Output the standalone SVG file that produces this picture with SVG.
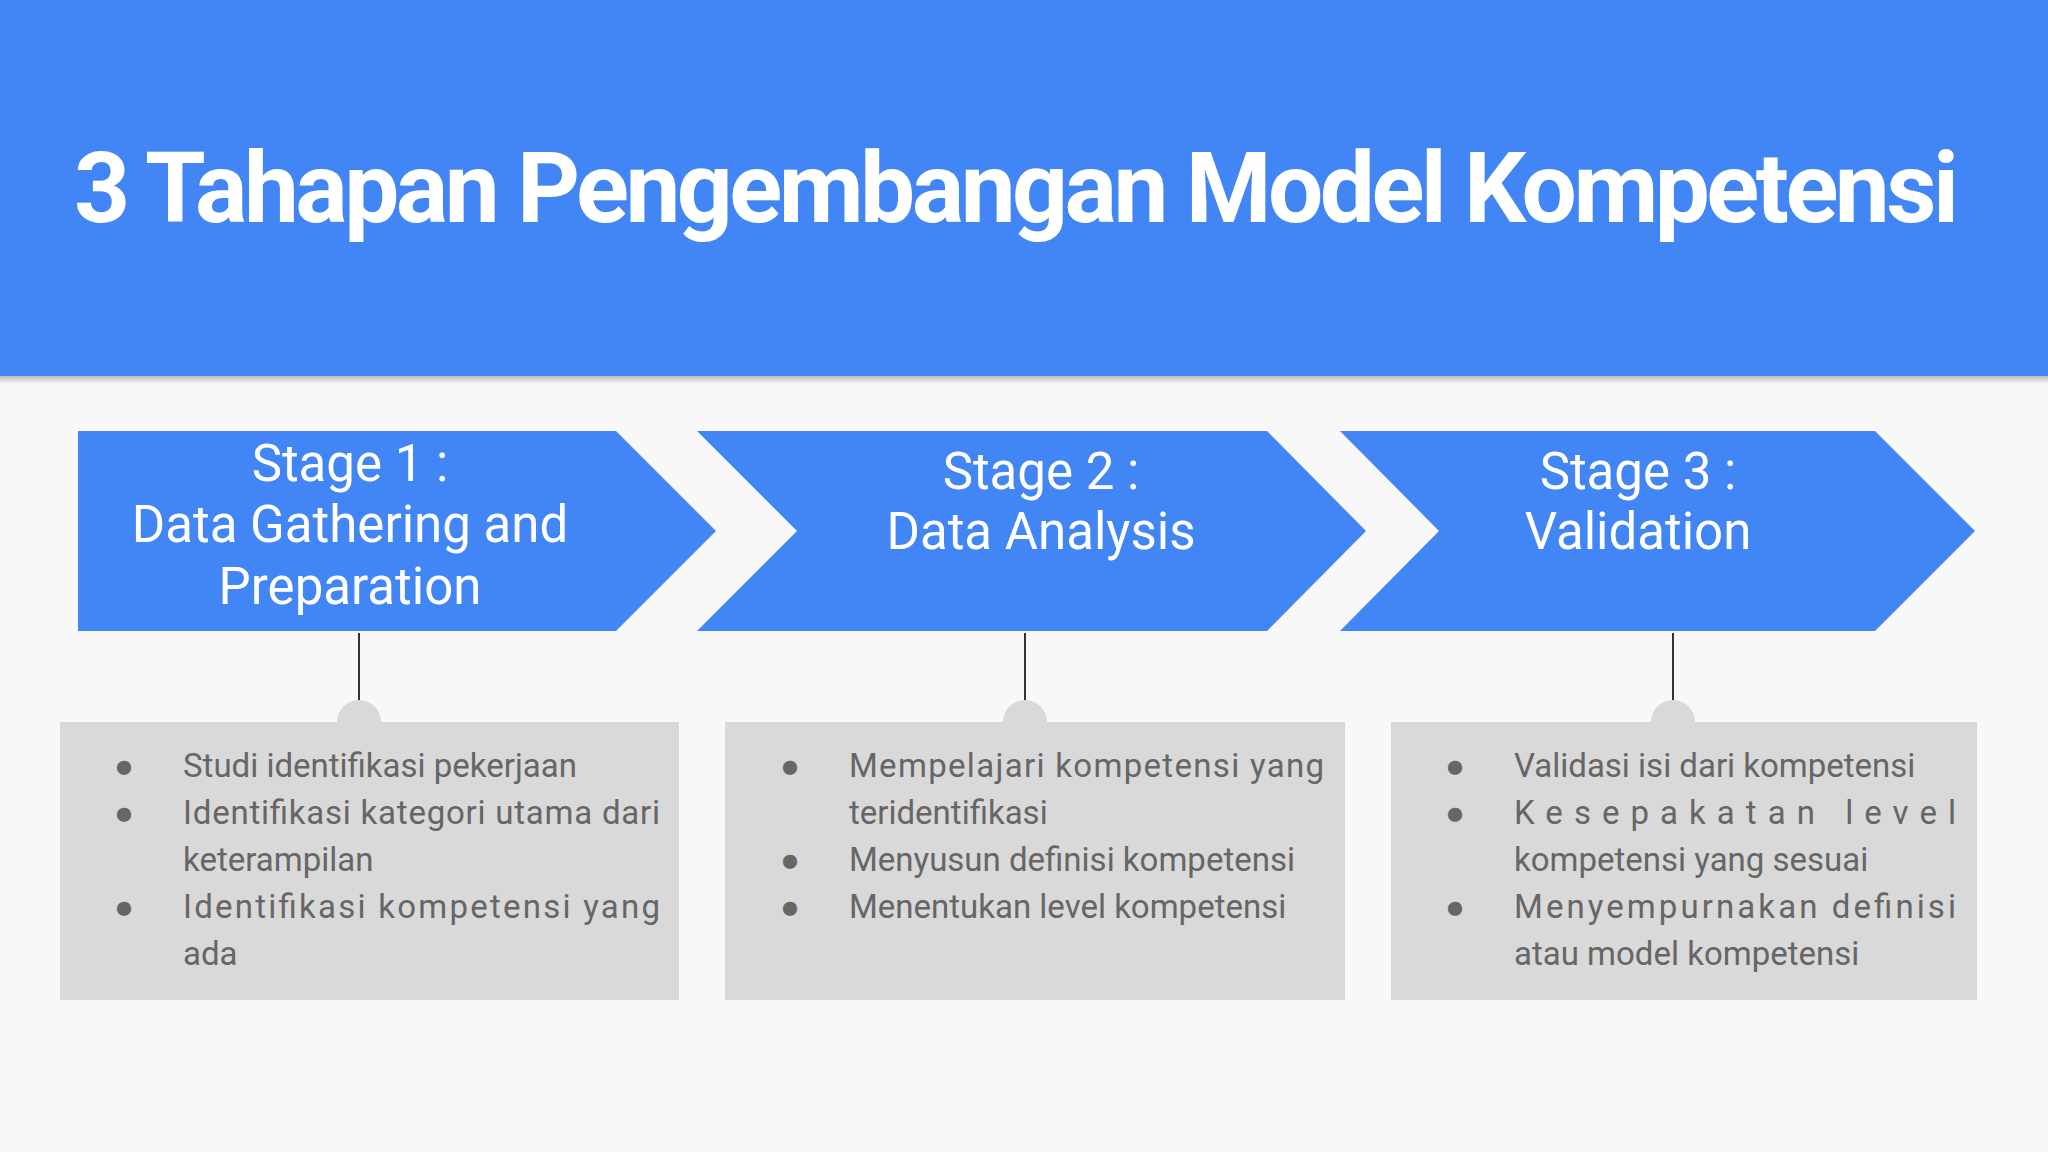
<svg xmlns="http://www.w3.org/2000/svg" width="2048" height="1152" viewBox="0 0 2048 1152">
<defs>
<style>
.ch{fill:#4285F4}
.st{font-family:Roboto,"Liberation Sans",sans-serif;font-size:51px;fill:#fff;text-anchor:middle}
.bx{fill:#d9d9d9}
.ln{stroke:#333;stroke-width:2}
.tx{font-family:Roboto,"Liberation Sans",sans-serif;font-size:33px;fill:#666}
</style>
<linearGradient id="sh" x1="0" y1="0" x2="0" y2="1"><stop offset="0" stop-color="#000" stop-opacity="0.25"/><stop offset="1" stop-color="#000" stop-opacity="0"/></linearGradient>
</defs>
<rect width="2048" height="1152" fill="#f8f8f8"/>
<rect y="376" width="2048" height="8" fill="url(#sh)"/>
<g id="header">
<rect width="2048" height="376" fill="#4285F4"/>
<text x="74" y="222" font-family="Roboto,'Liberation Sans',sans-serif" font-weight="bold" font-size="98" fill="#fff" textLength="1885">3 Tahapan Pengembangan Model Kompetensi</text>
</g>
<g id="connectors">
<line class="ln" x1="359" y1="633" x2="359" y2="712"/>
<line class="ln" x1="1025" y1="633" x2="1025" y2="712"/>
<line class="ln" x1="1673" y1="633" x2="1673" y2="712"/>
</g>
<g id="stage1">
<polygon class="ch" points="78,431 616,431 716,531 616,631 78,631"/>
<text class="st" x="350" y="481">Stage 1 :</text>
<text class="st" x="350" y="542">Data Gathering and</text>
<text class="st" x="350" y="604">Preparation</text>
</g>
<g id="stage2">
<polygon class="ch" points="697,431 1267,431 1366,531 1267,631 697,631 797,531"/>
<text class="st" x="1041" y="489">Stage 2 :</text>
<text class="st" x="1041" y="549">Data Analysis</text>
</g>
<g id="stage3">
<polygon class="ch" points="1340,431 1875,431 1975,531 1875,631 1340,631 1439,531"/>
<text class="st" x="1638" y="489">Stage 3 :</text>
<text class="st" x="1638" y="549">Validation</text>
</g>
<g id="box1">
<circle class="bx" cx="359" cy="722" r="22"/>
<rect class="bx" x="60" y="722" width="619" height="278"/>
<g class="tx">
<text x="114" y="777">●</text><text x="183" y="777">Studi identifikasi pekerjaan</text>
<text x="114" y="824">●</text><text x="183" y="824" textLength="477">Identifikasi kategori utama dari</text>
<text x="183" y="871">keterampilan</text>
<text x="114" y="918">●</text><text x="183" y="918" textLength="477">Identifikasi kompetensi yang</text>
<text x="183" y="965">ada</text>
</g>
</g>
<g id="box2">
<circle class="bx" cx="1025" cy="722" r="22"/>
<rect class="bx" x="725" y="722" width="620" height="278"/>
<g class="tx">
<text x="780" y="777">●</text><text x="849" y="777" textLength="475">Mempelajari kompetensi yang</text>
<text x="849" y="824">teridentifikasi</text>
<text x="780" y="871">●</text><text x="849" y="871">Menyusun definisi kompetensi</text>
<text x="780" y="918">●</text><text x="849" y="918">Menentukan level kompetensi</text>
</g>
</g>
<g id="box3">
<circle class="bx" cx="1673" cy="722" r="22"/>
<rect class="bx" x="1391" y="722" width="586" height="278"/>
<g class="tx">
<text x="1445" y="777">●</text><text x="1514" y="777">Validasi isi dari kompetensi</text>
<text x="1445" y="824">●</text><text x="1514" y="824" textLength="442">Kesepakatan                  level</text>
<text x="1514" y="871">kompetensi yang sesuai</text>
<text x="1445" y="918">●</text><text x="1514" y="918" textLength="442">Menyempurnakan       definisi</text>
<text x="1514" y="965">atau model kompetensi</text>
</g>
</g>
</svg>
